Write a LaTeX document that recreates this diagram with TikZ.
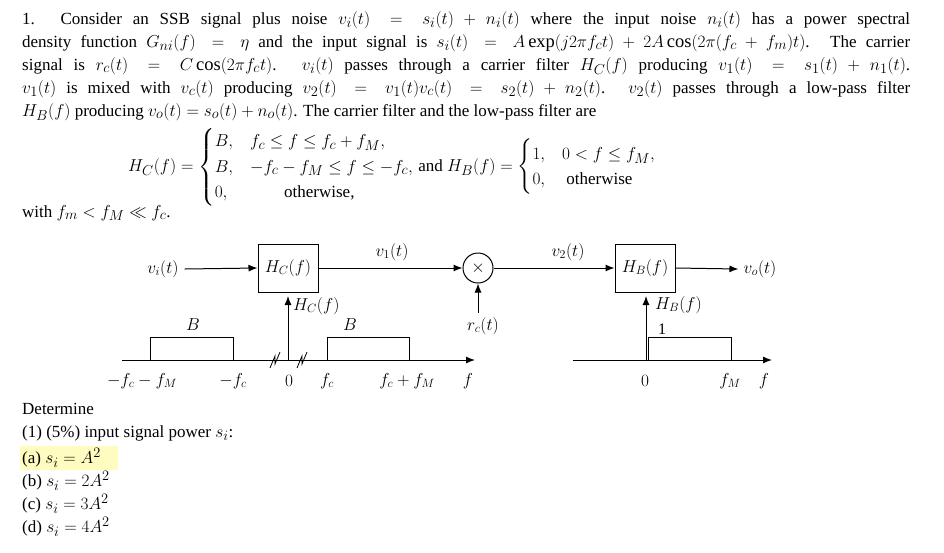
\documentclass[tikz,border=0pt]{standalone}
\usepackage{amsmath,amssymb}
\usepackage{fontspec}
\setmainfont{Liberation Serif}
\DeclareMathSizes{17}{18.5}{13.5}{10.5}
\DeclareMathSizes{16}{17.5}{12.5}{10}
\usetikzlibrary{arrows.meta}
\newcommand{\jline}[1]{\parbox{888pt}{\parfillskip=0pt\relax #1}}
\begin{document}
\begin{tikzpicture}[x=1pt,y=-1pt,
  txt/.style={inner sep=0pt,font=\fontsize{17}{21}\selectfont},
  lbl/.style={inner sep=0pt,font=\fontsize{16}{20}\selectfont},
  blk/.style={draw,line width=1pt,minimum width=60pt,minimum height=48pt,inner sep=0pt,font=\fontsize{16}{20}\selectfont},
  sig/.style={line width=1pt,-{Latex[length=9pt,width=7pt]}},
  ln/.style={line width=1pt}]
\useasboundingbox (0,0) rectangle (944,552);
\fill[yellow!25] (20,446) rectangle (118,470);
\node[txt,anchor=west] (l1) at (22,20) {\jline{1. Consider an SSB signal plus noise $v_i(t)=s_i(t)+n_i(t)$ where the input noise $n_i(t)$ has a power spectral}};
\node[txt,anchor=west] (l2) at (22,43) {\jline{density function $G_{ni}(f)=\eta$ and the input signal is $s_i(t)=A\exp(j2\pi f_ct)+2A\cos(2\pi(f_c+f_m)t)$. The carrier}};
\node[txt,anchor=west] (l3) at (22,66) {\jline{signal is $r_c(t)=C\cos(2\pi f_ct)$. $v_i(t)$ passes through a carrier filter $H_C(f)$ producing $v_1(t)=s_1(t)+n_1(t)$.}};
\node[txt,anchor=west] (l4) at (22,89) {\jline{$v_1(t)$ is mixed with $v_c(t)$ producing $v_2(t)=v_1(t)v_c(t)=s_2(t)+n_2(t)$. $v_2(t)$ passes through a low-pass filter}};
\node[txt,anchor=west] (l5) at (22,112) {$H_B(f)$ producing $v_o(t)=s_o(t)+n_o(t)$. The carrier filter and the low-pass filter are};
\node[txt,anchor=west] (eq) at (128,167) {$H_C(f)=\begin{cases}B, & f_c\le f\le f_c+f_M,\\ B, & -f_c-f_M\le f\le -f_c,\\ 0, & \qquad\text{otherwise,}\end{cases}$ and $H_B(f)=\begin{cases}1, & 0<f\le f_M,\\ 0, & \ \text{otherwise}\end{cases}$};
\node[txt,anchor=west] (with) at (22,213) {with $f_m<f_M\ll f_c$.};
% block diagram
\node[lbl] (vi) at (163,269) {$v_i(t)$};
\node[blk] (hc) at (288,268) {$H_C(f)$};
\node[draw,circle,line width=1pt,minimum size=30pt,inner sep=0pt,font=\fontsize{17}{20}\selectfont] (mx) at (478,268) {$\times$};
\node[blk] (hb) at (645,268) {$H_B(f)$};
\node[lbl] (vo) at (760,269) {$v_o(t)$};
\node[lbl] (rc) at (483,326) {$r_c(t)$};
\node[lbl] (v1) at (392,252) {$v_1(t)$};
\node[lbl] (v2) at (568,252) {$v_2(t)$};
\draw[sig] (vi.east)++(6,0) -- (hc.west);
\draw[sig] (hc) -- (mx);
\draw[sig] (mx) -- (hb);
\draw[sig] (hb.east) -- ([xshift=-5pt]vo.west);
\draw[sig] (rc.north)++(-5,-4) coordinate (rct) -- (mx.south);
% spectrum 1
\coordinate (a1s) at (122,360); \coordinate (a1e) at (475,360);
\draw[sig] (a1s) -- (a1e);
\coordinate (o1) at (288,360); \coordinate (o1t) at (288,296);
\draw[sig] (o1) -- (o1t);
\node[lbl,anchor=west] (hcl) at (293,306) {$H_C(f)$};
\draw[ln] (150,360) rectangle (233,337);
\draw[ln] (327,360) rectangle (409,337);
\node[lbl] (b1) at (193,325) {$B$};
\node[lbl] (b2) at (350,325) {$B$};
\draw[line width=0.8pt] (270,368) -- (275,356) -- (275,364) -- (280,352);
\draw[line width=0.8pt] (297,368) -- (302,356) -- (302,364) -- (307,352);
\node[lbl] at (142,381) {$-f_c-f_M$};
\node[lbl] at (233,381) {$-f_c$};
\node[lbl] at (289,381) {$0$};
\node[lbl] at (327,381) {$f_c$};
\node[lbl] at (407,381) {$f_c+f_M$};
\node[lbl] at (468,381) {$f$};
% spectrum 2
\coordinate (a2s) at (573,360); \coordinate (a2e) at (772,360);
\draw[sig] (a2s) -- (a2e);
\coordinate (o2) at (646,360); \coordinate (o2t) at (646,296);
\draw[sig] (o2) -- (o2t);
\node[lbl,anchor=west] (hbl) at (655,305) {$H_B(f)$};
\draw[ln] (648,360) rectangle (731,337);
\node[lbl] (one) at (662,329) {1};
\node[lbl] at (645,381) {$0$};
\node[lbl] at (730,381) {$f_M$};
\node[lbl] at (764,381) {$f$};
% questions
\node[txt,anchor=west] (det) at (22,409) {Determine};
\node[txt,anchor=west] (q1) at (22,433) {(1) (5\%) input signal power $s_i$:};
\node[txt,anchor=west] (qa) at (22,458) {(a) $s_i=A^2$};
\node[txt,anchor=west] (qb) at (22,481) {(b) $s_i=2A^2$};
\node[txt,anchor=west] (qc) at (22,504) {(c) $s_i=3A^2$};
\node[txt,anchor=west] (qd) at (22,527) {(d) $s_i=4A^2$};
\end{tikzpicture}
\end{document}
